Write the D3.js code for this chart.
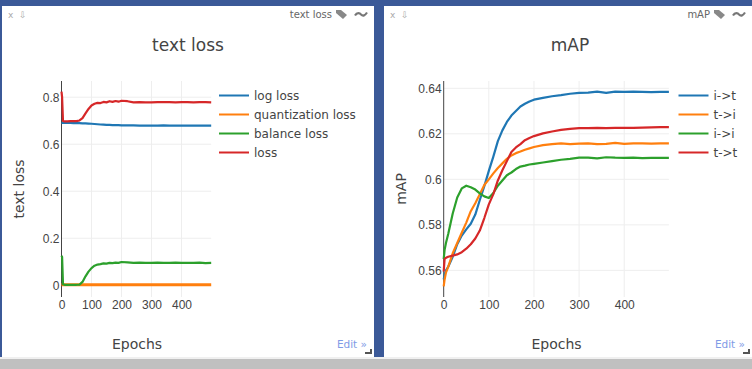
<!DOCTYPE html>
<html>
<head>
<meta charset="utf-8">
<script src="https://cdn.jsdelivr.net/npm/d3@7"></script>
<style>
  html, body { margin: 0; padding: 0; background: #c0c0c0; overflow: hidden; }
  svg { display: block; font-family: "DejaVu Sans", sans-serif; }
  text { fill: #444; }
  .grid { stroke: #eee; stroke-width: 1; }
  .serie { fill: none; stroke-linejoin: round; }
  .tick line { display: none; }
  .domain { stroke: #444; stroke-width: 1; }
  .tick text { font-size: 12px; fill: #444; }
  .grey { fill: #aaa; }
</style>
</head>
<body>
<svg id="page" width="752" height="369"></svg>
<script>
const colors = ["#1f77b4", "#ff7f0e", "#2ca02c", "#d62728"];

const epochs = [0,2,5,10,20,30,40,50,60,70,80,90,100,110,120,130,140,150,160,170,180,190,200,220,240,260,280,300,320,340,360,380,400,420,440,460,480,499];

const logLoss = [.692,.691,.691,.691,.691,.691,.690,.690,.690,.689,.689,.688,.687,.686,.685,.684,.683,.682,.682,.681,.681,.681,.680,.680,.680,.679,.679,.679,.679,.680,.679,.679,.679,.679,.679,.679,.679,.679];
const quantLoss = [.002,.002,.002,.002,.002,.002,.002,.002,.002,.002,.002,.002,.002,.002,.002,.002,.002,.002,.002,.002,.002,.002,.002,.002,.002,.002,.002,.002,.002,.002,.002,.002,.002,.002,.002,.002,.002,.002];
const balanceLoss = [.125,.120,.004,.002,.002,.002,.002,.002,.003,.014,.038,.058,.073,.083,.088,.090,.093,.092,.095,.094,.096,.095,.099,.097,.095,.096,.095,.095,.096,.095,.095,.096,.095,.095,.095,.096,.094,.095];
const totalLoss = [.824,.80,.699,.697,.697,.698,.698,.698,.701,.711,.731,.750,.765,.772,.776,.775,.780,.778,.783,.780,.784,.781,.785,.783,.778,.779,.778,.778,.779,.779,.779,.778,.779,.779,.778,.779,.779,.778];

const mapIT = [.556,.558,.560,.5616,.566,.5715,.5753,.578,.5805,.5845,.5909,.597,.6037,.610,.6168,.6215,.6252,.628,.630,.632,.6332,.6342,.635,.6358,.6365,.637,.6376,.638,.6381,.6385,.638,.6385,.6384,.6385,.6384,.6383,.6384,.6384];
const mapTI = [.553,.556,.559,.5615,.5675,.572,.5765,.581,.586,.5895,.5935,.5975,.600,.6026,.605,.607,.609,.6105,.6115,.6122,.613,.6136,.6142,.615,.6155,.6158,.6155,.6157,.6158,.6155,.6156,.616,.6156,.6158,.6158,.6157,.6158,.6158];
const mapII = [.565,.569,.572,.576,.585,.592,.596,.5972,.5965,.5955,.5938,.5925,.5918,.594,.5972,.5995,.6018,.603,.6045,.6056,.606,.6065,.6068,.6074,.608,.6086,.609,.6095,.6095,.6092,.6097,.6095,.6094,.6095,.6093,.6094,.6094,.6094];
const mapTT = [.5595,.565,.5655,.566,.5665,.567,.568,.5695,.5715,.574,.5775,.583,.589,.5935,.5995,.604,.608,.612,.614,.6155,.6172,.6182,.619,.6202,.621,.6217,.6222,.6225,.6225,.6226,.6225,.6226,.6226,.6226,.6227,.6228,.6229,.6229];

const xTicks = [0,100,200,300,400];
const lossTicks = [0,0.2,0.4,0.6,0.8];
const mapTicks = [0.56,0.58,0.6,0.62,0.64];

const svg = d3.select("#page");

// blue window background, then the two white panels
svg.append("rect").attr("width", 752).attr("height", 357).attr("fill", "#3b5998");
svg.append("rect").attr("y", 357).attr("width", 752).attr("height", 2).attr("fill", "#f0f0f0");

function drawPanel(cfg) {
  const g = svg.append("g");

  g.append("rect")
    .attr("x", cfg.panel[0])
    .attr("y", 6)
    .attr("width", cfg.panel[1] - cfg.panel[0])
    .attr("height", 351)
    .attr("fill", "#fff");

  const x = d3.scaleLinear().domain([0, 499]).range(cfg.xRange);
  const y = d3.scaleLinear().domain(cfg.yDomain).range([297, 81]);

  g.selectAll(".gx").data(xTicks.slice(1)).enter().append("line")
    .attr("class", "grid")
    .attr("x1", d => x(d)).attr("x2", d => x(d))
    .attr("y1", 81).attr("y2", 297);

  g.selectAll(".gy").data(cfg.yTicks).enter().append("line")
    .attr("class", "grid")
    .attr("x1", cfg.xRange[0]).attr("x2", cfg.xRange[1])
    .attr("y1", d => y(d)).attr("y2", d => y(d));

  g.append("g")
    .attr("transform", "translate(0,297)")
    .call(d3.axisBottom(x).tickValues(xTicks).tickSize(0).tickPadding(3))
    .call(a => a.select(".domain").remove());

  g.append("g")
    .attr("transform", `translate(${cfg.xRange[0]},0)`)
    .call(d3.axisLeft(y).tickValues(cfg.yTicks).tickFormat(d => d3.format("")(+d.toFixed(2))).tickSize(0).tickPadding(2))
    .call(a => a.select(".domain").attr("d", "M0,81V297"));

  const line = d3.line()
    .x((d, i) => x(epochs[i]))
    .y(d => y(d));

  cfg.series.forEach((s, i) => {
    g.append("path")
      .attr("class", "serie")
      .attr("stroke", colors[i])
      .attr("stroke-width", cfg.lineWidths[i])
      .attr("d", line(s));
  });

  // legend
  const lg = g.selectAll(".lg").data(cfg.names).enter().append("g")
    .attr("transform", (d, i) => `translate(${cfg.legendX},${95.5 + i * 19})`);
  lg.append("line")
    .attr("x2", 30)
    .attr("stroke", (d, i) => colors[i])
    .attr("stroke-width", 2);
  lg.append("text")
    .attr("x", 35)
    .attr("dy", "0.35em")
    .attr("font-size", 12)
    .text(d => d);

  // titles
  g.append("text")
    .attr("x", cfg.titleX).attr("y", 51)
    .attr("text-anchor", "middle")
    .attr("font-size", 17)
    .text(cfg.title);

  g.append("text")
    .attr("x", cfg.epochsX).attr("y", 349)
    .attr("text-anchor", "middle")
    .attr("font-size", 14)
    .text("Epochs");

  g.append("text")
    .attr("transform", `translate(${cfg.yTitleX},189) rotate(-90)`)
    .attr("text-anchor", "middle")
    .attr("font-size", 14)
    .text(cfg.yTitle);

  // little window controls
  const p = cfg.panel[0];
  g.append("text").attr("class", "grey").attr("x", p + 6).attr("y", 18).attr("font-size", 9).text("x");
  g.append("text").attr("class", "grey").attr("x", p + 17).attr("y", 18).attr("font-size", 9).text("⇩");

  const r = cfg.panel[1];
  g.append("text")
    .attr("x", r - 42).attr("y", 18)
    .attr("text-anchor", "end")
    .attr("font-size", 10)
    .attr("style", "fill:#666")
    .text(cfg.title);

  // tag icon
  g.append("path")
    .attr("transform", `translate(${r - 38},9)`)
    .attr("d", "M0,1H5L11,6L7,10L0,4Z")
    .attr("fill", "#888");

  // squiggle icon
  g.append("path")
    .attr("transform", `translate(${r - 19},14)`)
    .attr("d", "M0,1.5C2,-2 5,-1 6,0.5C8,2.5 10,1.5 12,-1.5")
    .attr("fill", "none")
    .attr("stroke", "#777")
    .attr("stroke-width", 2.2);

  g.append("text")
    .attr("x", r - 7).attr("y", 348)
    .attr("text-anchor", "end")
    .attr("font-size", 10.5)
    .attr("style", "fill:#7f9be6")
    .text("Edit »");

  // resize corner
  g.append("path")
    .attr("transform", `translate(${r - 9},349)`)
    .attr("d", "M5,0H7V5H0V3H5Z")
    .attr("fill", "#555");
}

drawPanel({
  panel: [2, 374],
  xRange: [61.5, 211.2],
  yDomain: [-0.05, 0.869],
  yTicks: lossTicks,
  series: [logLoss, quantLoss, balanceLoss, totalLoss],
  lineWidths: [2.2, 3, 2.2, 2.2],
  names: ["log loss", "quantization loss", "balance loss", "loss"],
  legendX: 219,
  title: "text loss",
  titleX: 188,
  epochsX: 137,
  yTitle: "text loss",
  yTitleX: 24
});

drawPanel({
  panel: [384, 752],
  xRange: [443.7, 668.9],
  yDomain: [0.5483, 0.6432],
  yTicks: mapTicks,
  series: [mapIT, mapTI, mapII, mapTT],
  lineWidths: [2.2, 2.2, 2.2, 2.2],
  names: ["i->t", "t->i", "i->i", "t->t"],
  legendX: 678.5,
  title: "mAP",
  titleX: 570,
  epochsX: 556.5,
  yTitle: "mAP",
  yTitleX: 406
});
</script>
</body>
</html>
